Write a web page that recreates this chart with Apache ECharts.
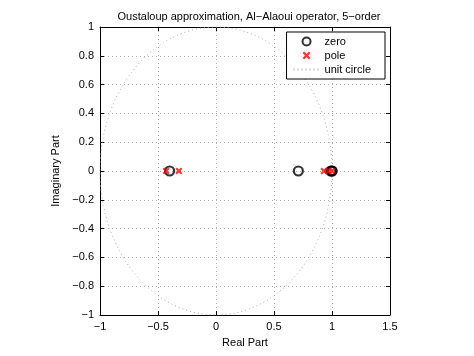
<!DOCTYPE html>
<html><head><meta charset="utf-8">
<script src="https://cdn.jsdelivr.net/npm/echarts@6/dist/echarts.min.js"></script>
<style>html,body{margin:0;padding:0;background:#fff}#c{width:474px;height:356px}</style>
</head><body><div id="c"></div>
<script>
const titleText = 'Oustaloup approximation, Al\u2212Alaoui operator, 5\u2212order';
const xTicks = [-1, -0.5, 0, 0.5, 1, 1.5];
const yTicks = [-1, -0.8, -0.6, -0.4, -0.2, 0, 0.2, 0.4, 0.6, 0.8, 1];
const zerosRe = [-0.40, 0.71, 0.99, 1.0, 1.0];
const zerosIm = [0, 0, 0, 0, 0];
const polesRe = [-0.43, -0.32, 0.93, 0.97, 1.0];
const polesIm = [0, 0, 0, 0, 0];
const circleSteps = 360;

const circle = [];
for (let i = 0; i <= circleSteps; i++) {
  const t = 2 * Math.PI * i / circleSteps;
  circle.push([Math.cos(t), Math.sin(t)]);
}
const zeros = zerosRe.map((r, i) => [r, zerosIm[i]]);
const poles = polesRe.map((r, i) => [r, polesIm[i]]);

const font = 'Liberation Sans, Arial, sans-serif';
const fmt = v => {
  const s = (Math.round(v * 10) / 10).toString();
  return s.replace('-', '\u2212');
};
const tickStyle = {show: true, inside: true, length: 4, lineStyle: {color: '#000', width: 1}};
const gridLine = {show: true, lineStyle: {color: '#b0b0b0', type: [1, 3], width: 1}};
const xPath = 'path://M0,2L2,0L5,3L8,0L10,2L7,5L10,8L8,10L5,7L2,10L0,8L3,5Z';

const chart = echarts.init(document.getElementById('c'), null, {renderer: 'canvas'});
chart.setOption({
  animation: false,
  backgroundColor: '#fff',
  textStyle: {fontFamily: font},
  title: {text: titleText, left: 244, top: 6, textAlign: 'center',
    textStyle: {fontSize: 11, fontWeight: 'normal', color: '#000', fontFamily: font}},
  grid: {left: 100, right: 84, top: 27, bottom: 41},
  legend: {
    orient: 'vertical', right: 89, top: 32, width: 96,
    backgroundColor: '#fff', borderColor: '#000', borderWidth: 1,
    padding: [4, 14, 4, 6], itemGap: 3, itemWidth: 26, itemHeight: 8,
    textStyle: {fontSize: 11, color: '#000', fontFamily: font},
    data: [
      {name: 'zero', icon: 'circle', itemStyle: {color: 'rgba(0,0,0,0)', borderColor: '#000', borderWidth: 2}},
      {name: 'pole', icon: xPath},
      {name: 'unit circle', itemStyle: {opacity: 0}}
    ]
  },
  xAxis: [
    {type: 'value', min: -1, max: 1.5, interval: 0.5, position: 'bottom',
     axisLine: {show: true, onZero: false, lineStyle: {color: '#000'}},
     axisTick: tickStyle, splitLine: gridLine,
     axisLabel: {formatter: fmt, fontSize: 11, color: '#000', margin: 6, fontFamily: font},
     name: 'Real Part', nameLocation: 'middle', nameGap: 22,
     nameTextStyle: {fontSize: 11, color: '#000', fontFamily: font}},
    {type: 'value', min: -1, max: 1.5, interval: 0.5, position: 'top',
     axisLine: {show: true, onZero: false, lineStyle: {color: '#000'}},
     axisTick: tickStyle, splitLine: {show: false}, axisLabel: {show: false}}
  ],
  yAxis: [
    {type: 'value', min: -1, max: 1, interval: 0.2, position: 'left',
     axisLine: {show: true, onZero: false, lineStyle: {color: '#000'}},
     axisTick: tickStyle, splitLine: gridLine,
     axisLabel: {formatter: fmt, fontSize: 11, color: '#000', margin: 6, fontFamily: font},
     name: 'Imaginary Part', nameLocation: 'middle', nameGap: 32,
     nameTextStyle: {fontSize: 11, color: '#000', fontFamily: font}},
    {type: 'value', min: -1, max: 1, interval: 0.2, position: 'right',
     axisLine: {show: true, onZero: false, lineStyle: {color: '#000'}},
     axisTick: tickStyle, splitLine: {show: false}, axisLabel: {show: false}}
  ],
  series: [
    {name: 'zero', type: 'scatter', data: zeros, symbol: 'circle', symbolSize: 9, z: 3,
     itemStyle: {color: 'rgba(0,0,0,0)', borderColor: '#000', borderWidth: 2.2}},
    {name: 'pole', type: 'scatter', data: poles, symbol: xPath, symbolSize: 7, z: 4,
     itemStyle: {color: '#ff0000'}},
    {name: 'unit circle', type: 'line', data: circle, showSymbol: false, symbol: 'none', z: 2,
     lineStyle: {color: '#b0b0b0', width: 1, type: [1, 3]}, itemStyle: {color: '#b0b0b0'}}
  ]
});
</script></body></html>
